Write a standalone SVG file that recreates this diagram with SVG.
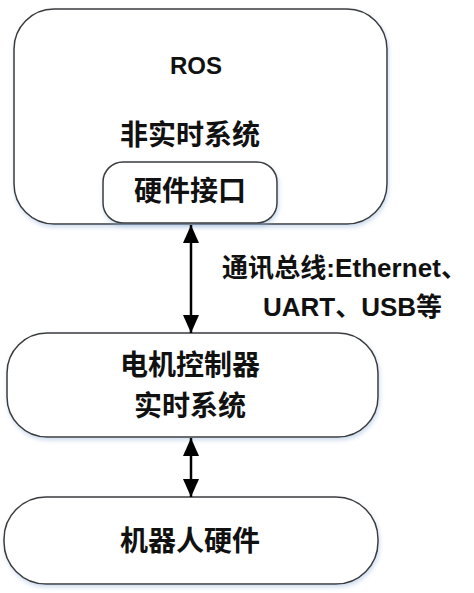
<svg xmlns="http://www.w3.org/2000/svg" width="474" height="593" viewBox="0 0 474 593">
<defs>
<filter id="sh" x="-10%" y="-10%" width="120%" height="130%">
<feDropShadow dx="1" dy="2.5" stdDeviation="2" flood-color="#8fb0d8" flood-opacity="0.45"/>
</filter>
<marker id="ah" viewBox="0 0 18 16" refX="18" refY="8" markerWidth="18" markerHeight="16" markerUnits="userSpaceOnUse" orient="auto-start-reverse">
<path d="M0,0 L18,8 L0,16 Z" fill="#000"/>
</marker>
</defs>
<style>
.box{fill:#fff;stroke:#3a3a3a;stroke-width:1.5;filter:url(#sh)}
.t{font-family:"Liberation Sans","Noto Sans CJK SC",sans-serif;font-weight:bold;fill:#111;text-anchor:middle}
.cjk{font-size:28px}
.lbl{font-family:"Liberation Sans","Noto Sans CJK SC",sans-serif;font-weight:bold;fill:#111;font-size:26px}
.conn{stroke:#000;stroke-width:2.5;fill:none}
</style>
<rect width="474" height="593" fill="#fff"/>
<g id="ros">
<rect class="box" x="14" y="9" width="373" height="215" rx="40" ry="40"/>
<text class="t" x="196" y="74" font-size="24px">ROS</text>
<text class="t cjk" x="190" y="145">非实时系统</text>
</g>
<g id="hw-interface">
<rect class="box" x="103" y="162" width="174" height="61" rx="20" ry="20"/>
<text class="t cjk" x="190" y="201">硬件接口</text>
</g>
<g id="motor-controller">
<rect class="box" x="7" y="333" width="371" height="104" rx="40" ry="40"/>
<text class="t cjk" x="190" y="375">电机控制器</text>
<text class="t cjk" x="190" y="416">实时系统</text>
</g>
<g id="robot-hw">
<rect class="box" x="4" y="497" width="374" height="87" rx="42" ry="42"/>
<text class="t cjk" x="190" y="551">机器人硬件</text>
</g>
<g id="connectors">
<line class="conn" x1="191" y1="225" x2="191" y2="333" marker-start="url(#ah)" marker-end="url(#ah)"/>
<line class="conn" x1="191" y1="438" x2="191" y2="497" marker-start="url(#ah)" marker-end="url(#ah)"/>
<text class="lbl" x="222" y="277" textLength="245" lengthAdjust="spacing">通讯总线:Ethernet、</text>
<text class="lbl" x="263" y="316">UART、USB等</text>
</g>
</svg>
